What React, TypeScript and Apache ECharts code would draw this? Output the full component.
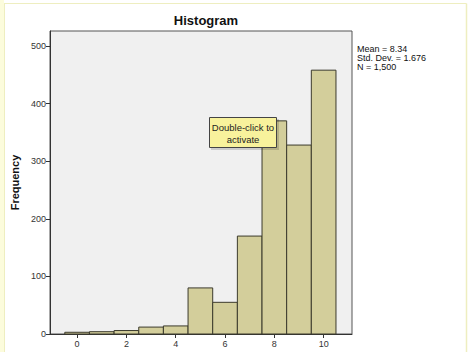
import React, { useEffect, useRef } from "react";
import * as echarts from "echarts";

const binCenters = [0, 1, 2, 3, 4, 5, 6, 7, 8, 9, 10];
const frequencies = [3, 4, 6, 12, 14, 80, 55, 170, 370, 328, 458];
const xTicks = [0, 2, 4, 6, 8, 10];
const yTicks = [0, 100, 200, 300, 400, 500];
const statsLines = ["Mean = 8.34", "Std. Dev. = 1.676", "N = 1,500"];
const titleText = "Histogram";
const yName = "Frequency";
const noteLines = ["Double-click to", "activate"];

export default function App() {
  const ref = useRef<HTMLDivElement>(null);
  useEffect(() => {
    document.body.style.margin = "0";
    const chart = echarts.init(ref.current!, undefined, { renderer: "svg" });
    const data = binCenters.map((c, i) => [c, frequencies[i]]);
    const font = "Liberation Sans, Arial";
    chart.setOption({
      animation: false,
      backgroundColor: "#ffffff",
      title: {
        text: titleText,
        left: 201,
        textAlign: "center",
        top: 9,
        textStyle: { fontFamily: font, fontSize: 13, fontWeight: "bold", color: "#111" },
      },
      grid: {
        left: 50,
        top: 31,
        right: 122,
        bottom: 18,
        show: true,
        backgroundColor: "#f0f0f0",
        borderColor: "#555555",
        borderWidth: 1,
      },
      xAxis: {
        type: "value",
        min: -1.1,
        max: 11.15,
        splitLine: { show: false },
        axisLine: { show: true, onZero: false, lineStyle: { color: "#333", width: 1 } },
        axisTick: { show: true, customValues: xTicks, length: 4, lineStyle: { color: "#333" } },
        axisLabel: { customValues: xTicks, fontFamily: font, fontSize: 9, color: "#333", margin: 5 },
      },
      yAxis: {
        type: "value",
        min: 0,
        max: 526,
        name: yName,
        nameLocation: "middle",
        nameGap: 25,
        nameTextStyle: { fontFamily: font, fontSize: 11, fontWeight: "bold", color: "#111" },
        splitLine: { show: false },
        axisLine: { show: true, onZero: false, lineStyle: { color: "#333", width: 1 } },
        axisTick: { show: true, customValues: yTicks, length: 4, lineStyle: { color: "#333" } },
        axisLabel: { customValues: yTicks, fontFamily: font, fontSize: 9, color: "#333", margin: 4 },
      },
      series: [
        {
          type: "custom",
          data,
          renderItem: (params: any, api: any) => {
            const c = api.value(0);
            const v = api.value(1);
            const p0 = api.coord([c - 0.5, 0]);
            const p1 = api.coord([c + 0.5, v]);
            return {
              type: "rect",
              shape: { x: p0[0], y: p1[1], width: p1[0] - p0[0], height: p0[1] - p1[1] },
              style: { fill: "#d3ce9b", stroke: "#3b3a2c", lineWidth: 1 },
            };
          },
          z: 3,
        },
      ],
      graphic: [
        { type: "rect", shape: { x: 0, y: 0, width: 4, height: 352 }, style: { fill: "#fcfcdc" }, silent: true },
        { type: "line", shape: { x1: 4, y1: 3.5, x2: 466.5, y2: 3.5 }, style: { stroke: "#eeeec0", lineWidth: 1 } },
        { type: "line", shape: { x1: 466.5, y1: 3.5, x2: 466.5, y2: 352 }, style: { stroke: "#eeeec0", lineWidth: 1.5 } },
        { type: "line", shape: { x1: 4.5, y1: 3.5, x2: 4.5, y2: 352 }, style: { stroke: "#eeeec0", lineWidth: 1 } },
        {
          type: "text",
          left: 357,
          top: 44,
          style: { text: statsLines.join("\n"), fontFamily: font, fontSize: 9, lineHeight: 9, fill: "#111" },
        },
        {
          type: "rect",
          z: 100,
          shape: { x: 211, y: 119, width: 68, height: 31 },
          style: { fill: "rgba(0,0,0,0.15)" },
        },
        {
          type: "rect",
          z: 101,
          shape: { x: 209.5, y: 117.5, width: 67, height: 30 },
          style: { fill: "#f8f29c", stroke: "#444", lineWidth: 1 },
        },
        {
          type: "text",
          z: 102,
          x: 243,
          y: 133,
          style: {
            text: noteLines.join("\n"),
            fontFamily: font,
            fontSize: 9.5,
            lineHeight: 12,
            fill: "#222",
            align: "center",
            verticalAlign: "middle",
          },
        },
      ],
    });
    return () => chart.dispose();
  }, []);
  return <div ref={ref} style={{ width: 474, height: 352 }} />;
}
